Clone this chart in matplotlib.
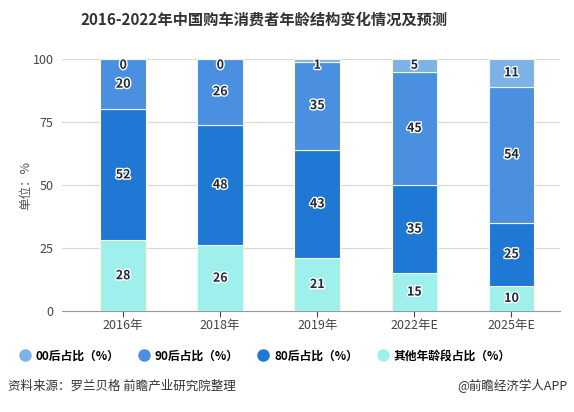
import numpy as np
import matplotlib.pyplot as plt
import matplotlib.patheffects as pe
from matplotlib.lines import Line2D

plt.rcParams['font.family'] = ['Noto Sans CJK SC', 'DejaVu Sans']

years = ['2016年', '2018年', '2019年', '2022年E', '2025年E']
other = [28, 26, 21, 15, 10]
post80 = [52, 48, 43, 35, 25]
post90 = [20, 26, 35, 45, 54]
post00 = [0, 0, 1, 5, 11]

names = ['其他年龄段占比（%）', '80后占比（%）', '90后占比（%）', '00后占比（%）']
colors = ['#9ff0ec', '#1f78d4', '#4a8fe0', '#7db2e6']

fig = plt.figure(figsize=(5.74, 4.12), dpi=100)
ax = fig.add_axes([62/574, 1-311/412, 498/574, 252/412])

x = np.arange(len(years))
bottom = np.zeros(len(years))
for vals, c in zip([other, post80, post90, post00], colors):
    vals = np.array(vals, dtype=float)
    ax.bar(x, vals, 0.47, bottom=bottom, color=c, edgecolor='#f4f8e0', linewidth=0.8, zorder=3)
    for i, v in enumerate(vals):
        yc = bottom[i] + v / 2
        if v < 3:
            yc = 97.5
        ax.text(x[i], yc, f'{int(v)}', ha='center', va='center', fontsize=9, fontweight='bold',
                color='#1e2a3a', zorder=5,
                path_effects=[pe.withStroke(linewidth=2, foreground='white')])
    bottom += vals

ax.set_ylim(0, 100)
ax.set_xlim(-0.63, 4.5)
ax.set_yticks([0, 25, 50, 75, 100])
ax.set_xticks(x)
ax.set_xticklabels(years)
ax.tick_params(axis='y', length=0, labelsize=9, colors='#444444', pad=6)
ax.tick_params(axis='x', length=4, labelsize=9, colors='#444444', pad=2)
ax.grid(axis='y', color='#d8d8d8', linewidth=0.8, zorder=0)
for s in ['top', 'right', 'left']:
    ax.spines[s].set_visible(False)
ax.spines['bottom'].set_color('#999999')
ax.set_ylabel('单位：%', fontsize=9, color='#555555', labelpad=0)

fig.text(0.46, 1-20/412, '2016-2022年中国购车消费者年龄结构变化情况及预测', ha='center', va='center',
         fontsize=11, fontweight='bold', color='#333333')

leg_order = [3, 2, 1, 0]
handles = [Line2D([], [], marker='o', linestyle='', markersize=8, color=colors[i]) for i in leg_order]
fig.legend(handles, [names[i] for i in leg_order], loc='center', bbox_to_anchor=(0.46, 1-356/412),
           ncol=4, frameon=False, handletextpad=0.3, columnspacing=1.5, handlelength=1.2,
           prop={'weight': 'bold', 'size': 8.5})

fig.text(8/574, 1-386/412, '资料来源：罗兰贝格 前瞻产业研究院整理', ha='left', va='center', fontsize=9, color='#333333')
fig.text(568/574, 1-386/412, '@前瞻经济学人APP', ha='right', va='center', fontsize=9, color='#333333')

fig.savefig('out.png', dpi=100)
